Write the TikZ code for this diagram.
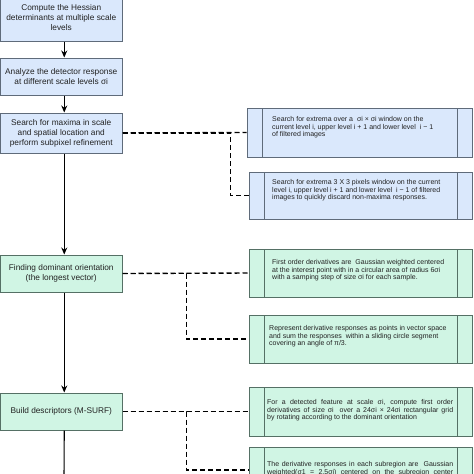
\documentclass[tikz,border=0pt]{standalone}
\usepackage{fontspec}
\setmainfont{Liberation Sans}
\usetikzlibrary{arrows.meta,calc}
\definecolor{bfill}{HTML}{DAE8FC}
\definecolor{bdraw}{HTML}{5F6B7A}
\definecolor{gfill}{HTML}{D0F5E4}
\definecolor{gdraw}{HTML}{557065}
\definecolor{txt}{HTML}{222222}
\newcommand{\jline}[1]{\makebox[186pt][s]{#1}}
\tikzset{
  mainbox/.style={draw, line width=1pt, inner sep=0pt, minimum width=121.5pt, align=center,
     font=\fontsize{8.3}{10}\selectfont, text=txt},
  procbox/.style={draw, line width=1pt, inner sep=0pt, minimum width=223pt,
     path picture={
       \draw[line width=0.9pt] ([xshift=15pt]path picture bounding box.north west) -- ([xshift=15pt]path picture bounding box.south west);
       \draw[line width=0.9pt] ([xshift=-15pt]path picture bounding box.north east) -- ([xshift=-15pt]path picture bounding box.south east);
     }},
  sidetext/.style={anchor=north west, inner sep=0pt, text=txt, font=\fontsize{7}{7.8}\selectfont},
  flow/.style={line width=1.1pt, -{Stealth[length=7pt,width=6pt]}},
  dashlink/.style={line width=1.4pt, dash pattern=on 5pt off 3pt},
}
\begin{document}
\begin{tikzpicture}[x=1pt,y=-1pt]
\useasboundingbox (0,0) rectangle (474,474);
% main flow
\node[mainbox, fill=bfill, draw=bdraw, minimum height=46pt] (b1) at (61.25,18) {Compute the Hessian\\determinants at multiple scale\\levels};
\node[mainbox, fill=bfill, draw=bdraw, minimum height=37pt] (b2) at (61.25,76.5) {Analyze the detector response\\at different scale levels σi};
\node[mainbox, fill=bfill, draw=bdraw, minimum height=40pt] (b3) at (61.25,133) {Search for maxima in scale\\and spatial location and\\perform subpixel refinement};
\node[mainbox, fill=gfill, draw=gdraw, minimum height=37pt] (b4) at (61.25,273.5) {Finding dominant orientation\\(the longest vector)};
\node[mainbox, fill=gfill, draw=gdraw, minimum height=37pt] (b5) at (61.25,411.5) {Build descriptors (M-SURF)};
\coordinate (bend) at (64,480);

% side boxes
\node[procbox, fill=bfill, draw=bdraw, minimum width=225pt, minimum height=49pt] (A) at (359.5,132.5) {};
\node[procbox, fill=bfill, draw=bdraw, minimum height=47pt] (B) at (360.5,195.5) {};
\node[procbox, fill=gfill, draw=gdraw, minimum height=48pt] (C) at (360.5,273) {};
\node[procbox, fill=gfill, draw=gdraw, minimum height=48pt] (D) at (360.5,339) {};
\node[procbox, fill=gfill, draw=gdraw, minimum height=49pt] (E) at (360.5,411.5) {};
\node[procbox, fill=gfill, draw=gdraw, minimum height=46pt] (F) at (360.5,470) {};

\node[sidetext, align=left] (tA) at (272,116) {Search for extrema over a \ σi × σi window on the\\current level i, upper level i + 1 and lower level \ i − 1\\of filtered images};
\node[sidetext, align=left] (tB) at (272,179) {Search for extrema 3 X 3 pixels window on the current\\level i, upper level i + 1 and lower level \ i − 1 of filtered\\images to quickly discard non-maxima responses.};
\node[sidetext, align=left] (tC) at (272,259) {First order derivatives are \ Gaussian weighted centered\\at the interest point with in a circular area of radius 6σi\\with a samping step of size σi for each sample.};
\node[sidetext, align=left] (tD) at (269,325) {Represent derivative responses as points in vector space\\and sum the responses \ within a sliding circle segment\\covering an angle of π/3.};
\node[sidetext, align=left] (tE) at (267,399) {\jline{For a detected feature at scale σi, compute first order}\\\jline{derivatives of size σi \ over a 24σi × 24σi rectangular grid}\\by rotating according to the dominant orientation};
\node[sidetext, align=left] (tF) at (267,461) {\jline{The derivative responses in each subregion are \ Gaussian}\\\jline{weighted(σ1 = 2.5σi) centered on the subregion center}};

% flow arrows
\draw[flow] ([xshift=3pt]b1.south) -- ([xshift=3pt]b2.north);
\draw[flow] ([xshift=3pt]b2.south) -- ([xshift=3pt]b3.north);
\draw[flow] ([xshift=3pt]b3.south) -- ([xshift=3pt]b4.north);
\draw[flow] ([xshift=3pt]b4.south) -- ([xshift=3pt]b5.north);
\draw[line width=1.1pt] ([xshift=3pt]b5.south) -- (bend);

% dashed links
\draw[dashlink] (b3.east) -- (A.west);
\draw[dashlink] (b3.east) -- ++(108,0) |- (B.west);
\draw[dashlink] (b4.east) -- (C.west);
\draw[dashlink] (b4.east) -- ++(64,0) |- (D.west);
\draw[dashlink] (b5.east) -- (E.west);
\draw[dashlink] (b5.east) -- ++(64,0) |- (F.west);
\end{tikzpicture}
\end{document}
